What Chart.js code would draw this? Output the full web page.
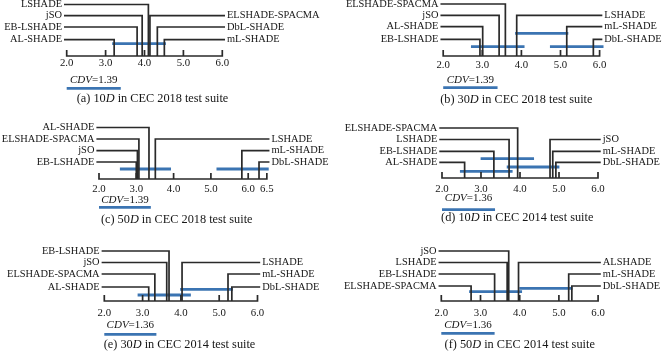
<!DOCTYPE html>
<html><head><meta charset="utf-8">
<script src="https://cdn.jsdelivr.net/npm/chart.js@4.4.1/dist/chart.umd.min.js"></script>
<style>html,body{margin:0;padding:0;background:#fff;overflow:hidden}#wrap{position:relative;width:667px;height:353px}</style>
</head><body><div id="wrap"><canvas id="c" width="667" height="353"></canvas></div>
<script>
// ---------- DATA (average ranks; first 4 names on the left, last 3 on the right) ----------
const namesA = ['LSHADE','jSO','EB-LSHADE','AL-SHADE','ELSHADE-SPACMA','DbL-SHADE','mL-SHADE'];
const ranksA = [4.10,3.94,3.81,3.22,4.14,4.33,4.51];
const cliqueFromA = [3.17];
const cliqueToA = [4.55];

const namesB = ['ELSHADE-SPACMA','jSO','AL-SHADE','EB-LSHADE','LSHADE','mL-SHADE','DbL-SHADE'];
const ranksB = [3.59,3.43,3.01,2.94,3.88,5.16,5.84];
const cliqueFromB = [3.84,2.71,4.73];
const cliqueToB = [5.20,4.08,6.10];

const namesC = ['AL-SHADE','ELSHADE-SPACMA','jSO','EB-LSHADE','LSHADE','mL-SHADE','DbL-SHADE'];
const ranksC = [3.34,3.07,3.03,3.00,3.51,5.83,6.29];
const cliqueFromC = [2.56,5.15];
const cliqueToC = [3.93,6.55];

const namesD = ['ELSHADE-SPACMA','LSHADE','EB-LSHADE','AL-SHADE','jSO','mL-SHADE','DbL-SHADE'];
const ranksD = [3.94,3.72,3.33,2.58,4.77,4.84,4.92];
const cliqueFromD = [2.99,3.66,2.46];
const cliqueToD = [4.36,5.01,3.81];

const namesE = ['EB-LSHADE','jSO','ELSHADE-SPACMA','AL-SHADE','LSHADE','mL-SHADE','DbL-SHADE'];
const ranksE = [3.69,3.63,3.32,3.16,4.03,5.23,5.33];
const cliqueFromE = [2.87,3.98];
const cliqueToE = [4.26,5.36];

const namesF = ['jSO','LSHADE','EB-LSHADE','ELSHADE-SPACMA','ALSHADE','mL-SHADE','DbL-SHADE'];
const ranksF = [3.72,3.68,3.36,2.76,3.97,5.25,5.33];
const cliqueFromF = [2.71,3.99];
const cliqueToF = [4.06,5.35];

const cdvValues = [1.39,1.39,1.39,1.36,1.36,1.36];
const panelLetters = ['a','b','c','d','e','f'];
const dimensions = ['10','30','50','10','30','50'];
const suites = ['CEC 2018','CEC 2018','CEC 2018','CEC 2014','CEC 2014','CEC 2014'];
const ticksStd = [2,3,4,5,6];
const ticksC = [2,3,4,5,6,6.5];
const tickLabelsStd = ['2.0','3.0','4.0','5.0','6.0'];
const tickLabelsC = ['2.0','3.0','4.0','5.0','6.0','6.5'];

// ---------- LAYOUT (pixels) ----------
const layouts = [
  {x2:66.7, unit:38.9, axisY:56, rows:[4.5,15.7,27,39.7], cliqueY:[43.7], tickY:63.5, cdvTextY:80, cdvBarY:88.3, titleX:152.5, titleY:98.3},
  {x2:443.2, unit:39.1, axisY:56, rows:[4,15.3,26.7,39.3], cliqueY:[33.3,46.7,46.7], tickY:65, cdvTextY:80, cdvBarY:87.7, titleX:516.3, titleY:99.3},
  {x2:99, unit:37.3, axisY:179, rows:[127.5,139,150.7,162], cliqueY:[169,169], tickY:188.7, cdvTextY:199.7, cdvBarY:207.3, titleX:176.7, titleY:219.7},
  {x2:442, unit:39, axisY:178, rows:[128,139.5,151.3,162.3], cliqueY:[158.7,167,171.3], tickY:189, cdvTextY:198, cdvBarY:209.7, titleX:517.2, titleY:218},
  {x2:104.3, unit:38.3, axisY:301, rows:[251,262.5,274,287], cliqueY:[295,289.3], tickY:313.3, cdvTextY:325.3, cdvBarY:334.3, titleX:179.5, titleY:344.3},
  {x2:441.3, unit:39.2, axisY:301, rows:[251,262.5,274,286], cliqueY:[291.7,288.3], tickY:313.3, cdvTextY:325.3, cdvBarY:333.3, titleX:519.7, titleY:344.3}
];
const W = 667, H = 353;
const LINE = '#2a2a2a', BLUE = '#3b74b2', TEXT = '#161616';
const FONT = '"Liberation Serif","Times New Roman",serif';
const LABEL_SIZE = 10.4, TICK_SIZE = 10.8, TITLE_SIZE = 12.3;
const TICK_LEN = 6, EDGE_PAD = 0.07, TEXT_GAP = 2;

const panels = [
  {names:namesA, ranks:ranksA, from:cliqueFromA, to:cliqueToA, ticks:ticksStd, tickLabels:tickLabelsStd},
  {names:namesB, ranks:ranksB, from:cliqueFromB, to:cliqueToB, ticks:ticksStd, tickLabels:tickLabelsStd},
  {names:namesC, ranks:ranksC, from:cliqueFromC, to:cliqueToC, ticks:ticksC, tickLabels:tickLabelsC},
  {names:namesD, ranks:ranksD, from:cliqueFromD, to:cliqueToD, ticks:ticksStd, tickLabels:tickLabelsStd},
  {names:namesE, ranks:ranksE, from:cliqueFromE, to:cliqueToE, ticks:ticksStd, tickLabels:tickLabelsStd},
  {names:namesF, ranks:ranksF, from:cliqueFromF, to:cliqueToF, ticks:ticksStd, tickLabels:tickLabelsStd}
];

// ---------- build chart ----------
const scales = { y: {type:'linear', axis:'y', min:0, max:H, reverse:true, display:false} };
const datasets = [];
function seg(pts, xid, color, width){
  datasets.push({data:pts, xAxisID:xid, yAxisID:'y', showLine:true, borderColor:color, borderWidth:width,
    pointRadius:0, pointHoverRadius:0, fill:false, tension:0, borderCapStyle:'butt', borderJoinStyle:'miter', clip:false});
}
panels.forEach((p,i)=>{
  const L = layouts[i];
  const id = 'x'+i;
  scales[id] = {type:'linear', axis:'x', display:false, min: 2 - L.x2/L.unit, max: 2 + (W - L.x2)/L.unit};
  const tMin = p.ticks[0], tMax = p.ticks[p.ticks.length-1];
  // axis with upward ticks
  const axisPts = [];
  p.ticks.forEach((t,k)=>{
    if(k>0) axisPts.push({x:t, y:L.axisY});
    axisPts.push({x:t, y:L.axisY}, {x:t, y:L.axisY - TICK_LEN}, {x:t, y:L.axisY});
  });
  seg(axisPts, id, LINE, 1.7);
  // algorithm connectors
  p.names.forEach((n,k)=>{
    const left = k < 4;
    const rowY = left ? L.rows[k] : L.rows[k-3];
    const edge = left ? tMin - EDGE_PAD : tMax + EDGE_PAD;
    seg([{x:edge,y:rowY},{x:p.ranks[k],y:rowY},{x:p.ranks[k],y:L.axisY}], id, LINE, 1.7);
  });
  // cliques
  p.from.forEach((f,k)=>{
    seg([{x:f,y:L.cliqueY[k]},{x:p.to[k],y:L.cliqueY[k]}], id, BLUE, 2.8);
  });
  // CDV bar
  seg([{x:tMin,y:L.cdvBarY},{x:tMin + cdvValues[i],y:L.cdvBarY}], id, BLUE, 2.8);
});

function drawRich(ctx, pieces, cx, cy, size){
  let total = 0;
  const widths = pieces.map(([t,it])=>{ctx.font = (it?'italic ':'') + size + 'px ' + FONT; const w = ctx.measureText(t).width; total += w; return w;});
  let x = cx - total/2;
  ctx.textAlign = 'left';
  pieces.forEach(([t,it],k)=>{ctx.font = (it?'italic ':'') + size + 'px ' + FONT; ctx.fillText(t, x, cy); x += widths[k];});
}

const textPlugin = {
  id:'cdText',
  afterDatasetsDraw(chart){
    const ctx = chart.ctx;
    panels.forEach((p,i)=>{
      const sx = chart.scales['x'+i];
      const L = layouts[i];
      const tMin = p.ticks[0], tMax = p.ticks[p.ticks.length-1];
      ctx.save();
      ctx.fillStyle = TEXT;
      ctx.textBaseline = 'middle';
      ctx.font = LABEL_SIZE + 'px ' + FONT;
      p.names.forEach((n,k)=>{
        const left = k < 4;
        const rowY = left ? L.rows[k] : L.rows[k-3];
        if(left){ ctx.textAlign='right'; ctx.fillText(n, sx.getPixelForValue(tMin - EDGE_PAD) - TEXT_GAP, rowY); }
        else { ctx.textAlign='left'; ctx.fillText(n, sx.getPixelForValue(tMax + EDGE_PAD) + TEXT_GAP, rowY); }
      });
      ctx.font = TICK_SIZE + 'px ' + FONT;
      ctx.textAlign = 'center';
      p.ticks.forEach((t,k)=>{ ctx.fillText(p.tickLabels[k], sx.getPixelForValue(t), L.tickY); });
      const cdvMid = sx.getPixelForValue(tMin + cdvValues[i]/2);
      drawRich(ctx, [['CDV',true],['=' + cdvValues[i].toFixed(2),false]], cdvMid, L.cdvTextY, LABEL_SIZE + 0.6);
      drawRich(ctx, [['(' + panelLetters[i] + ') ' + dimensions[i],false],['D',true],[' in ' + suites[i] + ' test suite',false]], L.titleX, L.titleY, TITLE_SIZE);
      ctx.restore();
    });
  }
};

new Chart(document.getElementById('c'), {
  type:'scatter',
  data:{datasets},
  options:{responsive:false, animation:false, devicePixelRatio:1,
    layout:{padding:0, autoPadding:false},
    plugins:{legend:{display:false}, tooltip:{enabled:false}, title:{display:false}},
    events:[], scales},
  plugins:[textPlugin]
});
</script></body></html>
